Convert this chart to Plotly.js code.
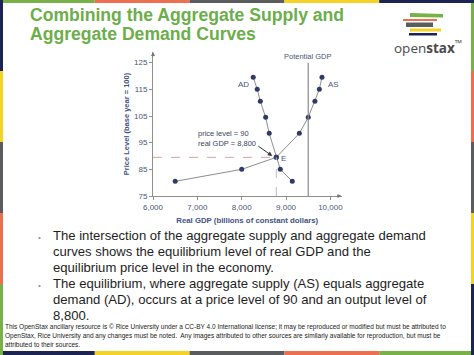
<!DOCTYPE html>
<html>
<head>
<meta charset="utf-8">
<script src="https://cdn.plot.ly/plotly-3.0.1.min.js"></script>
<style>
  html, body { margin: 0; padding: 0; background: #fff; }
  #chart { width: 474px; height: 355px; }
</style>
</head>
<body>
<div id="chart"></div>
<script>
// ---- data ----
const adGDP   = [8260, 8350, 8420, 8540, 8620, 8780, 8870, 9140];
const adPrice = [119.5, 115, 110.5, 104.5, 98.5, 89.5, 85, 80.5];
const asGDP   = [6500, 8000, 8780, 9300, 9500, 9650, 9750, 9810];
const asPrice = [80.5, 85, 89.5, 98.5, 104.5, 110.5, 115, 119.5];
const equilibriumGDP = 8780;
const equilibriumPrice = 89.5;
const potentialGDP = 9500;
const xTickVals = [6000, 7000, 8000, 9000, 10000];
const xTickText = ['6,000', '7,000', '8,000', '9,000', '10,000'];
const yTickVals = [75, 85, 95, 105, 115, 125];
const titleLines = ['Combining the Aggregate Supply and', 'Aggregate Demand Curves'];
const bullet1 = ['The intersection of the aggregate supply and aggregate demand',
                 'curves shows the equilibrium level of real GDP and the',
                 'equilibrium price level in the economy.'];
const bullet2 = ['The equilibrium, where aggregate supply (AS) equals aggregate',
                 'demand (AD), occurs at a price level of 90 and an output level of',
                 '8,800.'];
const footer = ['This OpenStax ancillary resource is \u00a9 Rice University under a CC-BY 4.0 International license; it may be reproduced or modified but must be attributed to',
                'OpenStax, Rice University and any changes must be noted.  Any images attributed to other sources are similarly available for reproduction, but must be',
                'attributed to their sources.'];

// ---- helpers: figure pixels -> paper fraction (margins are zero) ----
const W = 474, H = 355;
const PX = p => p / W;
const PY = p => 1 - p / H;

const C = { green: '#77b148', orange: '#ee6f4f', gray: '#5b5c5e', yellow: '#f4d226', navy: '#1c2454' };
const axisText = '#4a5675';
const titleBlue = '#3e5283';
const FONT = 'Liberation Sans, Arial, sans-serif';

const shapes = [];
function rect(x0, y0, x1, y1, color) {
  shapes.push({ type: 'rect', xref: 'paper', yref: 'paper', x0: PX(x0), x1: PX(x1), y0: PY(y1), y1: PY(y0),
                fillcolor: color, line: { width: 0 }, layer: 'above' });
}
// border stripes
const topCols = [C.green, C.orange, C.gray, C.yellow, C.navy];
const botCols = [C.navy, C.yellow, C.gray, C.orange, C.green];
const leftCols = [C.navy, C.yellow, C.gray, C.orange, C.green];
const rightCols = [C.green, C.orange, C.gray, C.yellow, C.navy];
for (let i = 0; i < 5; i++) {
  rect(i * W / 5, 0, (i + 1) * W / 5, 3, topCols[i]);
  rect(i * W / 5, 351, (i + 1) * W / 5, 355, botCols[i]);
  rect(0, i * H / 5, 3, (i + 1) * H / 5, leftCols[i]);
  rect(471, i * H / 5, 474, (i + 1) * H / 5, rightCols[i]);
}
// logo bars
shapes.push({ type: 'path', xref: 'paper', yref: 'paper', fillcolor: C.green, line: { width: 0 },
  path: `M ${PX(410)} ${PY(13)} L ${PX(443)} ${PY(14)} L ${PX(443)} ${PY(17.5)} L ${PX(410)} ${PY(17)} Z` });
rect(403, 19, 437, 21, C.orange);
rect(406, 22.5, 433, 27, C.gray);
rect(410, 28.5, 441, 31.5, C.yellow);
rect(409, 33, 437, 35.5, C.navy);

// chart shapes (data coords)
shapes.push({ type: 'line', xref: 'x', yref: 'y', x0: 6000, x1: equilibriumGDP, y0: equilibriumPrice, y1: equilibriumPrice,
              line: { color: '#d4a3a3', width: 1, dash: 'dash' } });
shapes.push({ type: 'line', xref: 'x', yref: 'y', x0: equilibriumGDP, x1: equilibriumGDP, y0: 75, y1: equilibriumPrice,
              line: { color: '#b9b9c4', width: 1, dash: 'dash' } });
shapes.push({ type: 'line', xref: 'x', yref: 'y', x0: potentialGDP, x1: potentialGDP, y0: 75, y1: 125,
              line: { color: '#8a8a8a', width: 1.2 } });

const annotations = [];
// a single text line placed by its baseline (pixels)
function line(text, x, baseline, size, color, family) {
  annotations.push({ text, x: PX(x), y: PY(baseline - 0.36 * size), xref: 'paper', yref: 'paper', showarrow: false,
    xanchor: 'left', yanchor: 'middle', align: 'left', font: { family: family || FONT, size, color } });
}
line('<b>' + titleLines[0] + '</b>', 28, 21.7, 17.6, '#6bae4a');
line('<b>' + titleLines[1] + '</b>', 28, 40, 17.6, '#6bae4a');
line('open<b>stax</b><sup>\u2122</sup>', 392, 52, 13.5, '#4a4a4a', 'Open Sans, sans-serif');
const bodyBase = [240.7, 256.7, 272.7, 288.3, 304.2, 320];
const bodyLines = bullet1.concat(bullet2);
bodyLines.forEach((t, i) => line(t, 50.5, bodyBase[i], 13.1, '#1e1e1e'));
line('\u2022', 35.5, 240.5, 8, '#8a9a8a');
line('\u2022', 35.5, 288, 8, '#8a9a8a');
const footBase = [329.5, 338.3, 346.8];
footer.forEach((t, i) => line(t, 3, footBase[i], 6.5, '#222'));

// chart labels (data coords)
function dlab(text, x, y, opts) {
  annotations.push(Object.assign({ text, x, y, xref: 'x', yref: 'y', showarrow: false,
    font: { family: FONT, size: 8, color: axisText } }, opts || {}));
}
dlab('AD', 8040, 117);
dlab('AS', 10060, 117);
dlab('E', equilibriumGDP + 170, equilibriumPrice - 0.3);
dlab('Potential GDP', potentialGDP, 127.4, { font: { family: FONT, size: 7.5, color: axisText } });
dlab('price level = 90<br>real GDP = 8,800', 6960, 96.6, { xanchor: 'left', align: 'left',
  font: { family: FONT, size: 7.5, color: '#3a4560' } });
// pointer arrow to E
annotations.push({ x: equilibriumGDP - 90, y: equilibriumPrice + 0.5, ax: 8340, ay: 94.1, xref: 'x', yref: 'y',
  axref: 'x', ayref: 'y', text: '', showarrow: true, arrowhead: 2, arrowsize: 0.9, arrowwidth: 1, arrowcolor: '#333' });
// axis arrow heads
annotations.push({ x: 10250, y: 75, xref: 'x', yref: 'y', ax: -6, ay: 0, text: '', showarrow: true,
  arrowhead: 2, arrowsize: 0.8, arrowwidth: 1, arrowcolor: '#777' });
annotations.push({ x: 6000, y: 129, xref: 'x', yref: 'y', ax: 0, ay: 6, text: '', showarrow: true,
  arrowhead: 2, arrowsize: 0.8, arrowwidth: 1, arrowcolor: '#777' });

const traces = [
  { x: adGDP, y: adPrice, name: 'AD', mode: 'lines+markers', line: { color: '#8d8d8d', width: 1 },
    marker: { color: '#2e3b66', size: 5 }, cliponaxis: false },
  { x: asGDP, y: asPrice, name: 'AS', mode: 'lines+markers', line: { color: '#8d8d8d', width: 1 },
    marker: { color: '#2e3b66', size: 5 }, cliponaxis: false }
];

const layout = {
  width: W, height: H, autosize: false,
  margin: { l: 0, r: 0, t: 0, b: 0, pad: 0 },
  paper_bgcolor: '#ffffff', plot_bgcolor: 'rgba(0,0,0,0)',
  showlegend: false,
  font: { family: FONT },
  xaxis: {
    domain: [PX(153), PX(341.5)], range: [6000, 10250], fixedrange: true,
    showgrid: false, zeroline: false, showline: true, linecolor: '#8f8f8f', linewidth: 1,
    ticks: 'outside', ticklen: 3, tickcolor: '#8f8f8f', tickvals: xTickVals, ticktext: xTickText,
    tickfont: { family: FONT, size: 8, color: axisText },
    title: { text: '<b>Real GDP (billions of constant dollars)</b>', font: { family: FONT, size: 7.8, color: titleBlue }, standoff: 6 }
  },
  yaxis: {
    domain: [PY(196), PY(52)], range: [75, 129], fixedrange: true,
    showgrid: false, zeroline: false, showline: true, linecolor: '#8f8f8f', linewidth: 1,
    ticks: 'outside', ticklen: 3, tickcolor: '#8f8f8f', tickvals: yTickVals,
    tickfont: { family: FONT, size: 8, color: axisText },
    title: { text: '<b>Price Level (base year = 100)</b>', font: { family: FONT, size: 7.5, color: titleBlue }, standoff: 3 }
  },
  shapes, annotations
};

Plotly.newPlot('chart', traces, layout, { staticPlot: true, displayModeBar: false });
</script>
</body>
</html>
